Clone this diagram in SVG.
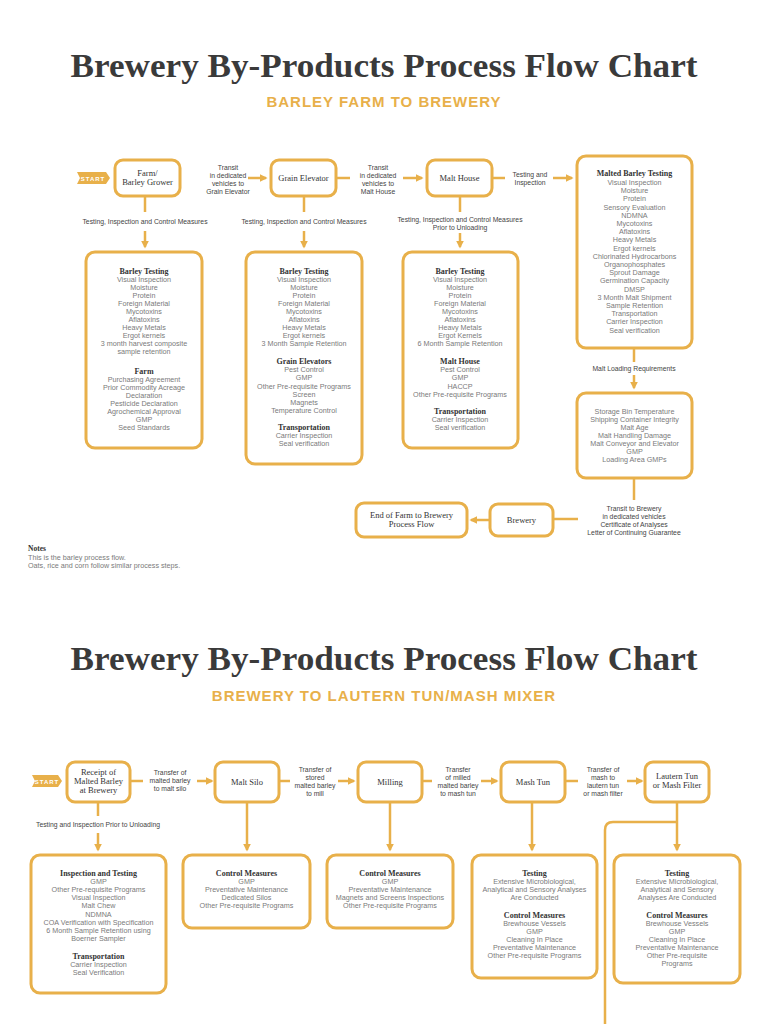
<svg xmlns="http://www.w3.org/2000/svg" width="768" height="1024" viewBox="0 0 768 1024">
<defs>
<marker id="ah" viewBox="0 0 10 10" refX="8" refY="5" markerWidth="3.2" markerHeight="3.2" orient="auto"><path d="M0,0 L10,5 L0,10 z" fill="#E8B04A"/></marker>
<style>
.bx{fill:#fff;stroke:#E8B04A;stroke-width:3}
.ln{fill:none;stroke:#E8B04A;stroke-width:2.5}
.ar{fill:none;stroke:#E8B04A;stroke-width:2.5;marker-end:url(#ah)}
.t{font-family:'Liberation Serif',serif;font-weight:bold;fill:#3a3a3a;text-anchor:middle}
.st{font-family:'Liberation Sans',sans-serif;font-weight:bold;fill:#E8B04A;text-anchor:middle;font-size:15px;letter-spacing:1px}
.nm{font-family:'Liberation Serif',serif;font-size:8.5px;fill:#333;text-anchor:middle}
.hd{font-family:'Liberation Serif',serif;font-weight:bold;font-size:8px;fill:#333;text-anchor:middle}
.it{font-family:'Liberation Sans',sans-serif;font-size:7.2px;fill:#7a7a7a;text-anchor:middle}
.nt{font-family:'Liberation Sans',sans-serif;font-size:7.2px;fill:#7a7a7a;text-anchor:start}
.lb{font-family:'Liberation Sans',sans-serif;font-size:6.8px;fill:#444;text-anchor:middle}
.sl{font-family:'Liberation Sans',sans-serif;font-weight:bold;font-size:6px;fill:#fff;text-anchor:middle;letter-spacing:1px}
</style>
</defs>
<rect width="768" height="1024" fill="#fff"/>
<text class="t" x="384" y="77" font-size="33" textLength="627" lengthAdjust="spacingAndGlyphs">Brewery By-Products Process Flow Chart</text>
<text class="st" x="384" y="107">BARLEY FARM TO BREWERY</text>
<text class="t" x="384" y="670" font-size="33" textLength="627" lengthAdjust="spacingAndGlyphs">Brewery By-Products Process Flow Chart</text>
<text class="st" x="384" y="701">BREWERY TO LAUTERN TUN/MASH MIXER</text>

<g id="connectors">
<line class="ar" x1="248" y1="178" x2="266" y2="178"/>
<line class="ln" x1="336" y1="178" x2="350" y2="178"/>
<line class="ar" x1="403" y1="178" x2="422" y2="178"/>
<line class="ln" x1="492" y1="178" x2="505" y2="178"/>
<line class="ar" x1="553" y1="178" x2="572" y2="178"/>
<line class="ln" x1="145" y1="196" x2="145" y2="212"/>
<line class="ar" x1="145" y1="231" x2="145" y2="247"/>
<line class="ln" x1="304" y1="196" x2="304" y2="212"/>
<line class="ar" x1="304" y1="231" x2="304" y2="247"/>
<line class="ln" x1="460" y1="196" x2="460" y2="212"/>
<line class="ar" x1="460" y1="233" x2="460" y2="247"/>
<line class="ln" x1="634" y1="348" x2="634" y2="362"/>
<line class="ar" x1="634" y1="375" x2="634" y2="388"/>
<line class="ln" x1="634" y1="478" x2="634" y2="500"/>
<line class="ln" x1="553" y1="519" x2="578" y2="519"/>
<line class="ar" x1="490" y1="520" x2="471" y2="520"/>

<line class="ln" x1="130" y1="781" x2="143" y2="781"/>
<line class="ar" x1="197" y1="781" x2="212" y2="781"/>
<line class="ln" x1="279" y1="781" x2="290" y2="781"/>
<line class="ar" x1="338" y1="781" x2="354" y2="781"/>
<line class="ln" x1="422" y1="781" x2="432" y2="781"/>
<line class="ar" x1="481" y1="781" x2="497" y2="781"/>
<line class="ln" x1="565" y1="781" x2="578" y2="781"/>
<line class="ar" x1="627" y1="781" x2="642" y2="781"/>
<line class="ln" x1="98" y1="802" x2="98" y2="816"/>
<line class="ar" x1="98" y1="833" x2="98" y2="850"/>
<line class="ar" x1="247" y1="802" x2="247" y2="850"/>
<line class="ar" x1="390" y1="802" x2="390" y2="850"/>
<line class="ar" x1="532" y1="802" x2="532" y2="850"/>
<line class="ar" x1="677" y1="802" x2="677" y2="850"/>
<path class="ln" d="M677,822 H613 Q605,822 605,830 V1024"/>
</g>

<g id="labels">
<text class="lb"><tspan x="228" y="170">Transit</tspan><tspan x="228" y="178">in dedicated</tspan><tspan x="228" y="186">vehicles to</tspan><tspan x="228" y="194">Grain Elevator</tspan></text>
<text class="lb"><tspan x="378" y="170">Transit</tspan><tspan x="378" y="178">in dedicated</tspan><tspan x="378" y="186">vehicles to</tspan><tspan x="378" y="194">Malt House</tspan></text>
<text class="lb"><tspan x="530" y="177">Testing and</tspan><tspan x="530" y="185">Inspection</tspan></text>
<text class="lb" x="145" y="224">Testing, Inspection and Control Measures</text>
<text class="lb" x="304" y="224">Testing, Inspection and Control Measures</text>
<text class="lb"><tspan x="460" y="222">Testing, Inspection and Control Measures</tspan><tspan x="460" y="230">Prior to Unloading</tspan></text>
<text class="lb" x="634" y="371">Malt Loading Requirements</text>
<text class="lb"><tspan x="634" y="511">Transit to Brewery</tspan><tspan x="634" y="519">in dedicated vehicles</tspan><tspan x="634" y="527">Certificate of Analyses</tspan><tspan x="634" y="535">Letter of Continuing Guarantee</tspan></text>
<text class="lb"><tspan x="170" y="775">Transfer of</tspan><tspan x="170" y="783">malted barley</tspan><tspan x="170" y="791">to malt silo</tspan></text>
<text class="lb"><tspan x="315" y="772">Transfer of</tspan><tspan x="315" y="780">stored</tspan><tspan x="315" y="788">malted barley</tspan><tspan x="315" y="796">to mill</tspan></text>
<text class="lb"><tspan x="458" y="772">Transfer</tspan><tspan x="458" y="780">of milled</tspan><tspan x="458" y="788">malted barley</tspan><tspan x="458" y="796">to mash tun</tspan></text>
<text class="lb"><tspan x="603" y="772">Transfer of</tspan><tspan x="603" y="780">mash to</tspan><tspan x="603" y="788">lautern tun</tspan><tspan x="603" y="796">or mash filter</tspan></text>
<text class="lb" x="98" y="827">Testing and Inspection Prior to Unloading</text>
</g>

<g id="start1"><path d="M77,172 H106 L110,178 L106,184 H77 L80,178 z" fill="#E8B04A"/><text class="sl" x="93" y="180.5">START</text></g>
<g id="farm"><rect class="bx" x="115" y="160" width="65" height="36" rx="8"/><text class="nm"><tspan x="147.5" y="176">Farm/</tspan><tspan x="147.5" y="185">Barley Grower</tspan></text></g>
<g id="grain"><rect class="bx" x="271" y="160" width="65" height="36" rx="8"/><text class="nm" x="303.5" y="181">Grain Elevator</text></g>
<g id="malthouse"><rect class="bx" x="427" y="160" width="65" height="36" rx="8"/><text class="nm" x="459.5" y="181">Malt House</text></g>

<g id="farmdetail"><rect class="bx" x="86" y="252" width="116" height="196" rx="9"/>
<text class="hd" x="144" y="274">Barley Testing</text>
<text class="it"><tspan x="144" y="282">Visual Inspection</tspan><tspan x="144" y="290">Moisture</tspan><tspan x="144" y="298">Protein</tspan><tspan x="144" y="306">Foreign Material</tspan><tspan x="144" y="314">Mycotoxins</tspan><tspan x="144" y="322">Aflatoxins</tspan><tspan x="144" y="330">Heavy Metals</tspan><tspan x="144" y="338">Ergot kernels</tspan><tspan x="144" y="346">3 month harvest composite</tspan><tspan x="144" y="354">sample retention</tspan></text>
<text class="hd" x="144" y="374">Farm</text>
<text class="it"><tspan x="144" y="382">Purchasing Agreement</tspan><tspan x="144" y="390">Prior Commodity Acreage</tspan><tspan x="144" y="398">Declaration</tspan><tspan x="144" y="406">Pesticide Declaration</tspan><tspan x="144" y="414">Agrochemical Approval</tspan><tspan x="144" y="422">GMP</tspan><tspan x="144" y="430">Seed Standards</tspan></text></g>

<g id="graindetail"><rect class="bx" x="246" y="252" width="116" height="212" rx="9"/>
<text class="hd" x="304" y="274">Barley Testing</text>
<text class="it"><tspan x="304" y="282">Visual Inspection</tspan><tspan x="304" y="290">Moisture</tspan><tspan x="304" y="298">Protein</tspan><tspan x="304" y="306">Foreign Material</tspan><tspan x="304" y="314">Mycotoxins</tspan><tspan x="304" y="322">Aflatoxins</tspan><tspan x="304" y="330">Heavy Metals</tspan><tspan x="304" y="338">Ergot kernels</tspan><tspan x="304" y="346">3 Month Sample Retention</tspan></text>
<text class="hd" x="304" y="364">Grain Elevators</text>
<text class="it"><tspan x="304" y="372">Pest Control</tspan><tspan x="304" y="380">GMP</tspan><tspan x="304" y="389">Other Pre-requisite Programs</tspan><tspan x="304" y="397">Screen</tspan><tspan x="304" y="405">Magnets</tspan><tspan x="304" y="413">Temperature Control</tspan></text>
<text class="hd" x="304" y="430">Transportation</text>
<text class="it"><tspan x="304" y="438">Carrier Inspection</tspan><tspan x="304" y="446">Seal verification</tspan></text></g>

<g id="malthousedetail"><rect class="bx" x="403" y="252" width="115" height="196" rx="9"/>
<text class="hd" x="460" y="274">Barley Testing</text>
<text class="it"><tspan x="460" y="282">Visual Inspection</tspan><tspan x="460" y="290">Moisture</tspan><tspan x="460" y="298">Protein</tspan><tspan x="460" y="306">Foreign Material</tspan><tspan x="460" y="314">Mycotoxins</tspan><tspan x="460" y="322">Aflatoxins</tspan><tspan x="460" y="330">Heavy Metals</tspan><tspan x="460" y="338">Ergot Kernels</tspan><tspan x="460" y="346">6 Month Sample Retention</tspan></text>
<text class="hd" x="460" y="364">Malt House</text>
<text class="it"><tspan x="460" y="372">Pest Control</tspan><tspan x="460" y="380">GMP</tspan><tspan x="460" y="389">HACCP</tspan><tspan x="460" y="397">Other Pre-requisite Programs</tspan></text>
<text class="hd" x="460" y="414">Transportation</text>
<text class="it"><tspan x="460" y="422">Carrier Inspection</tspan><tspan x="460" y="430">Seal verification</tspan></text></g>

<g id="maltedbarley"><rect class="bx" x="577" y="156" width="115" height="192" rx="9"/>
<text class="hd" x="634.5" y="176">Malted Barley Testing</text>
<text class="it"><tspan x="634.5" y="185">Visual Inspection</tspan><tspan x="634.5" y="193">Moisture</tspan><tspan x="634.5" y="201">Protein</tspan><tspan x="634.5" y="209.5">Sensory Evaluation</tspan><tspan x="634.5" y="217.5">NDMNA</tspan><tspan x="634.5" y="226">Mycotoxins</tspan><tspan x="634.5" y="234">Aflatoxins</tspan><tspan x="634.5" y="242">Heavy Metals</tspan><tspan x="634.5" y="250.5">Ergot kernels</tspan><tspan x="634.5" y="258.5">Chlorinated Hydrocarbons</tspan><tspan x="634.5" y="267">Organophosphates</tspan><tspan x="634.5" y="275">Sprout Damage</tspan><tspan x="634.5" y="283">Germination Capacity</tspan><tspan x="634.5" y="291.5">DMSP</tspan><tspan x="634.5" y="299.5">3 Month Malt Shipment</tspan><tspan x="634.5" y="308">Sample Retention</tspan><tspan x="634.5" y="316">Transportation</tspan><tspan x="634.5" y="324">Carrier Inspection</tspan><tspan x="634.5" y="332.5">Seal verification</tspan></text></g>

<g id="maltloading"><rect class="bx" x="577" y="393" width="115" height="85" rx="9"/>
<text class="it"><tspan x="634.5" y="414">Storage Bin Temperature</tspan><tspan x="634.5" y="422">Shipping Container Integrity</tspan><tspan x="634.5" y="430">Malt Age</tspan><tspan x="634.5" y="438">Malt Handling Damage</tspan><tspan x="634.5" y="446">Malt Conveyor and Elevator</tspan><tspan x="634.5" y="454">GMP</tspan><tspan x="634.5" y="462">Loading Area GMPs</tspan></text></g>

<g id="brewery"><rect class="bx" x="490" y="504" width="63" height="32" rx="8"/><text class="nm" x="521.5" y="523">Brewery</text></g>
<g id="endfarm"><rect class="bx" x="356" y="503" width="111" height="34" rx="8"/><text class="nm"><tspan x="411.5" y="518">End of Farm to Brewery</tspan><tspan x="411.5" y="527">Process Flow</tspan></text></g>

<g id="notes"><text font-family="Liberation Serif,serif" font-weight="bold" font-size="7.5" fill="#333" x="28" y="551">Notes</text>
<text class="nt"><tspan x="28" y="560">This is the barley process flow.</tspan><tspan x="28" y="568">Oats, rice and corn follow similar process steps.</tspan></text></g>

<g id="start2"><path d="M32,775 H58 L62,781 L58,787 H32 L35,781 z" fill="#E8B04A"/><text class="sl" x="47" y="783.5">START</text></g>
<g id="receipt"><rect class="bx" x="67" y="762" width="63" height="40" rx="8"/><text class="nm"><tspan x="98.5" y="775">Receipt of</tspan><tspan x="98.5" y="784">Malted Barley</tspan><tspan x="98.5" y="793">at Brewery</tspan></text></g>
<g id="maltsilo"><rect class="bx" x="215" y="762" width="64" height="40" rx="8"/><text class="nm" x="247" y="785">Malt Silo</text></g>
<g id="milling"><rect class="bx" x="358" y="762" width="64" height="40" rx="8"/><text class="nm" x="390" y="785">Milling</text></g>
<g id="mashtun"><rect class="bx" x="501" y="762" width="64" height="40" rx="8"/><text class="nm" x="533" y="785">Mash Tun</text></g>
<g id="lautern"><rect class="bx" x="645" y="762" width="64" height="40" rx="8"/><text class="nm"><tspan x="677" y="779">Lautern Tun</tspan><tspan x="677" y="788">or Mash Filter</tspan></text></g>

<g id="receiptdetail"><rect class="bx" x="31" y="855" width="135" height="138" rx="9"/>
<text class="hd" x="98.5" y="876">Inspection and Testing</text>
<text class="it"><tspan x="98.5" y="884">GMP</tspan><tspan x="98.5" y="892">Other Pre-requisite Programs</tspan><tspan x="98.5" y="900">Visual Inspection</tspan><tspan x="98.5" y="908">Malt Chew</tspan><tspan x="98.5" y="917">NDMNA</tspan><tspan x="98.5" y="925">COA Verification with Specification</tspan><tspan x="98.5" y="933">6 Month Sample Retention using</tspan><tspan x="98.5" y="941">Boerner Sampler</tspan></text>
<text class="hd" x="98.5" y="959">Transportation</text>
<text class="it"><tspan x="98.5" y="967">Carrier Inspection</tspan><tspan x="98.5" y="975">Seal Verification</tspan></text></g>

<g id="silodetail"><rect class="bx" x="183" y="855" width="127" height="73" rx="9"/>
<text class="hd" x="246.5" y="876">Control Measures</text>
<text class="it"><tspan x="246.5" y="884">GMP</tspan><tspan x="246.5" y="892">Preventative Maintenance</tspan><tspan x="246.5" y="900">Dedicated Silos</tspan><tspan x="246.5" y="908">Other Pre-requisite Programs</tspan></text></g>

<g id="millingdetail"><rect class="bx" x="327" y="855" width="126" height="73" rx="9"/>
<text class="hd" x="390" y="876">Control Measures</text>
<text class="it"><tspan x="390" y="884">GMP</tspan><tspan x="390" y="892">Preventative Maintenance</tspan><tspan x="390" y="900">Magnets and Screens Inspections</tspan><tspan x="390" y="908">Other Pre-requisite Programs</tspan></text></g>

<g id="mashdetail"><rect class="bx" x="472" y="855" width="125" height="123" rx="9"/>
<text class="hd" x="534.5" y="876">Testing</text>
<text class="it"><tspan x="534.5" y="884">Extensive Microbiological,</tspan><tspan x="534.5" y="892">Analytical and Sensory Analyses</tspan><tspan x="534.5" y="900">Are Conducted</tspan></text>
<text class="hd" x="534.5" y="918">Control Measures</text>
<text class="it"><tspan x="534.5" y="926">Brewhouse Vessels</tspan><tspan x="534.5" y="934">GMP</tspan><tspan x="534.5" y="942">Cleaning In Place</tspan><tspan x="534.5" y="950">Preventative Maintenance</tspan><tspan x="534.5" y="958">Other Pre-requisite Programs</tspan></text></g>

<g id="lauterndetail"><rect class="bx" x="614" y="855" width="126" height="128" rx="9"/>
<text class="hd" x="677" y="876">Testing</text>
<text class="it"><tspan x="677" y="884">Extensive Microbiological,</tspan><tspan x="677" y="892">Analytical and Sensory</tspan><tspan x="677" y="900">Analyses Are Conducted</tspan></text>
<text class="hd" x="677" y="918">Control Measures</text>
<text class="it"><tspan x="677" y="926">Brewhouse Vessels</tspan><tspan x="677" y="934">GMP</tspan><tspan x="677" y="942">Cleaning In Place</tspan><tspan x="677" y="950">Preventative Maintenance</tspan><tspan x="677" y="958">Other Pre-requisite</tspan><tspan x="677" y="966">Programs</tspan></text></g>
</svg>
